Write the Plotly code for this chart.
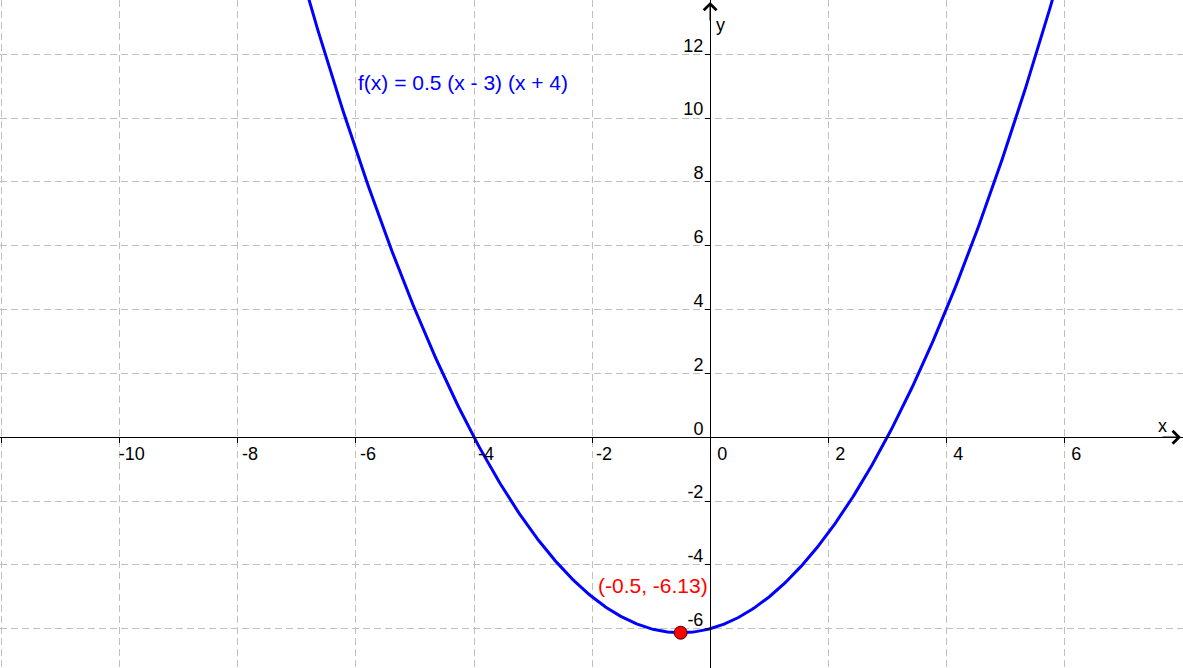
import numpy as np
import plotly.graph_objects as go

# Function as displayed on the chart: f(x) = 0.5 (x - 3) (x + 4)
COEF = 0.5
ROOT_1 = 3
ROOT_2 = -4
FUNC_LABEL = "f(x) = 0.5 (x - 3) (x + 4)"

# Marked vertex
VERTEX_X = [-0.5]
VERTEX_Y = [-6.125]
VERTEX_LABEL = "(-0.5, -6.13)"

# Axes
X_TICKS = [-12, -10, -8, -6, -4, -2, 0, 2, 4, 6]
X_TICK_TEXT = ["", "-10", "-8", "-6", "-4", "-2", "0", "2", "4", "6"]
Y_TICKS = [-6, -4, -2, 0, 2, 4, 6, 8, 10, 12]
Y_TICK_TEXT = ["-6", "-4", "-2", "0", "2", "4", "6", "8", "10", "12"]
X_RANGE = [-12.03, 8.01]
Y_RANGE = [-7.23, 13.70]

FONT = "Liberation Sans, Arial, sans-serif"
BLUE = "#0000ff"
RED = "#ff0000"

xs = np.linspace(X_RANGE[0], X_RANGE[1], 800)
ys = COEF * (xs - ROOT_1) * (xs - ROOT_2)

fig = go.Figure()
fig.add_trace(go.Scatter(x=xs, y=ys, mode="lines",
                         line=dict(color=BLUE, width=3), hoverinfo="skip"))
fig.add_trace(go.Scatter(x=VERTEX_X, y=VERTEX_Y, mode="markers",
                         marker=dict(color=RED, size=13,
                                     line=dict(color="#400000", width=1)),
                         cliponaxis=False))

xaxis_pos = (0 - Y_RANGE[0]) / (Y_RANGE[1] - Y_RANGE[0])
yaxis_pos = (0 - X_RANGE[0]) / (X_RANGE[1] - X_RANGE[0])

common = dict(showline=True, linecolor="black", linewidth=1.3,
              ticks="outside", ticklen=5, tickwidth=1.3, tickcolor="black",
              showgrid=True, gridcolor="#c0c0c0", gridwidth=1, griddash="7px,4px",
              zeroline=False, tickfont=dict(family=FONT, size=18, color="black"),
              fixedrange=True)

fig.update_layout(
    width=1183, height=668,
    margin=dict(l=0, r=0, t=0, b=0),
    paper_bgcolor="white", plot_bgcolor="white",
    showlegend=False,
    xaxis=dict(range=X_RANGE, anchor="free", position=xaxis_pos,
               tickvals=X_TICKS, ticktext=X_TICK_TEXT,
               ticklabelshift=12, ticklabelstandoff=-5, **common),
    yaxis=dict(range=Y_RANGE, anchor="free", position=yaxis_pos,
               tickvals=Y_TICKS, ticktext=Y_TICK_TEXT,
               ticklabelshift=-9, ticklabelstandoff=-2, **common),
)

# axis arrowheads
fig.add_annotation(x=X_RANGE[1] - 0.035, y=0, ax=-20, ay=0, text="",
                   showarrow=True, arrowhead=4, arrowwidth=1.3, arrowsize=1.9,
                   arrowcolor="black")
fig.add_annotation(x=0, y=Y_RANGE[1] - 0.06, ax=0, ay=20, text="",
                   showarrow=True, arrowhead=4, arrowwidth=1.3, arrowsize=1.9,
                   arrowcolor="black")
# axis names
fig.add_annotation(x=X_RANGE[1], y=0, xanchor="right", yanchor="bottom",
                   xshift=-14, yshift=-1, text="x", showarrow=False,
                   font=dict(family=FONT, size=18, color="black"))
fig.add_annotation(x=0, y=Y_RANGE[1], xanchor="left", yanchor="top",
                   xshift=4, yshift=-13, text="y", showarrow=False,
                   font=dict(family=FONT, size=18, color="black"))
# function label
fig.add_annotation(x=-6.0, y=11.1, xanchor="left", yanchor="middle",
                   text=FUNC_LABEL, showarrow=False,
                   font=dict(family=FONT, size=21, color=BLUE))
# vertex label
fig.add_annotation(x=-1.93, y=-4.63, xanchor="left", yanchor="middle",
                   text=VERTEX_LABEL, showarrow=False,
                   font=dict(family=FONT, size=21, color=RED))

fig.write_html("out.html",
               config={"displayModeBar": False},
               post_script="document.body.style.margin='0';"
                           "document.body.style.overflow='hidden';")
